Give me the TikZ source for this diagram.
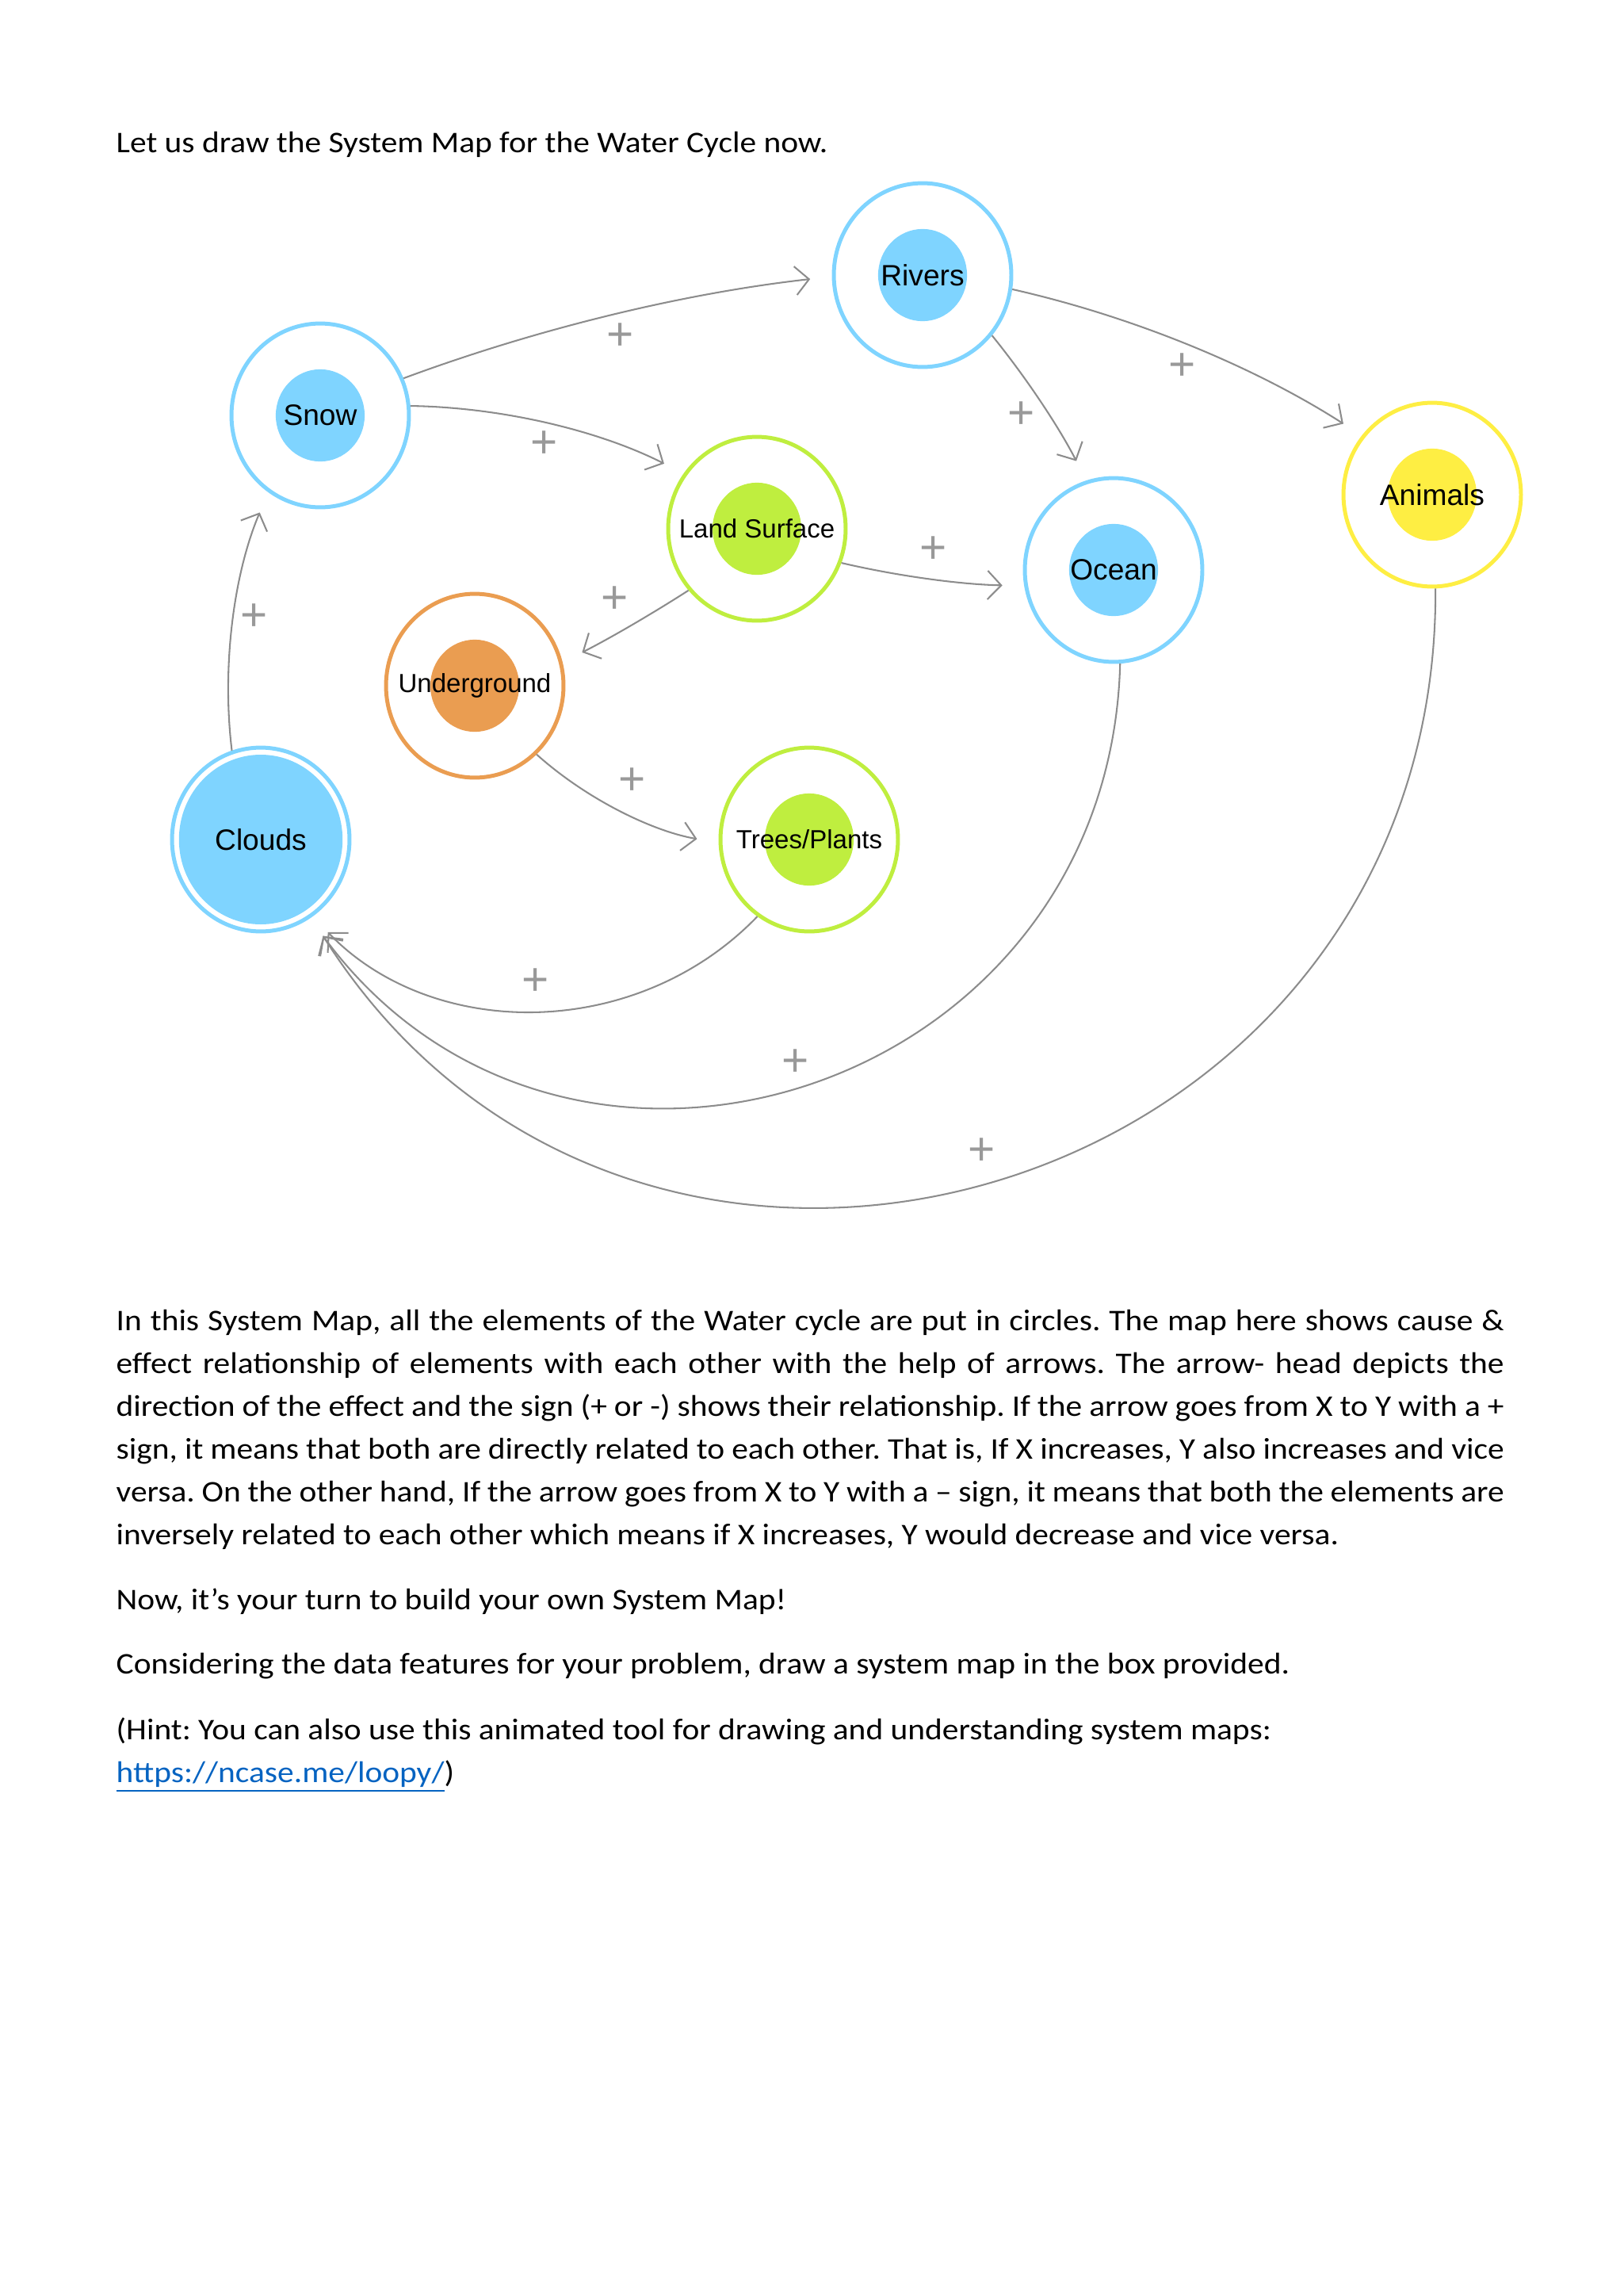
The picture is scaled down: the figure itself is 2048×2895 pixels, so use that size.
\documentclass[tikz,border=0pt]{standalone}
\usepackage{fontspec}
\setmainfont[FakeStretch=1.095]{Carlito}
\newfontfamily\mapfont{Liberation Sans}
\usetikzlibrary{arrows.meta, shapes.geometric}
\frenchspacing

\definecolor{loopblue}{HTML}{7FD4FF}
\definecolor{loopgreen}{HTML}{BFEE3F}
\definecolor{looporange}{HTML}{EA9D51}
\definecolor{loopyellow}{HTML}{FEEE43}
\definecolor{edgegray}{HTML}{8C8C8C}
\definecolor{signgray}{HTML}{999999}
\definecolor{linkblue}{HTML}{0563C1}

\begin{document}
\begin{tikzpicture}[
          x=0.29067pt, y=0.29067pt,
          stock/.style={ellipse, draw=#1, line width=1.45pt,
                        minimum width=65.1pt, minimum height=67.4pt,
                        inner sep=-10pt, text=black,
                        font=\mapfont\fontsize{10.8}{12}\selectfont,
                        path picture={\fill[#1] (path picture bounding box.center)
                          ellipse [x radius=16.3pt, y radius=16.9pt];}},
          flooded/.style={path picture={\fill[#1] (path picture bounding box.center)
                          ellipse [x radius=30pt, y radius=31.1pt];}},
          small/.style={font=\mapfont\fontsize{9.6}{11}\selectfont},
          rel/.style={draw=edgegray, line width=0.6pt, looseness=0.85,
                      -{Straight Barb[length=5pt, width=10.5pt]}, shorten >=8pt},
          sgn/.style={text=signgray, inner sep=0pt,
                      font=\mapfont\fontsize{17}{17}\selectfont},
          txt/.style={anchor=base west, inner sep=0pt,
                      font=\fontsize{11}{15.75}\selectfont}
        ]
          \useasboundingbox (0,0) rectangle (2048,-2895);

          \node[txt] (title) at (146,-192)
            {Let us draw the System Map for the Water Cycle now.};

          % stocks
          \node[stock=loopblue] (snow) at (404,-524) {Snow};
          \node[stock=loopblue] (rivers) at (1164,-347) {Rivers};
          \node[stock=loopgreen, small] (land) at (955,-667) {Land Surface};
          \node[stock=loopblue] (ocean) at (1405,-719) {Ocean};
          \node[stock=loopyellow] (animals) at (1807,-624) {Animals};
          \node[stock=looporange, small] (under) at (599,-865) {Underground};
          \node[stock=loopblue, flooded=loopblue] (clouds) at (329,-1059) {Clouds};
          \node[stock=loopgreen, small] (trees) at (1021,-1059) {Trees/Plants};

          % relations
          \draw[rel] (snow.24) to[bend left=7] (rivers.181);
          \draw[rel] (snow.6) to[bend left=13] (land.143);
          \draw[rel] (rivers.-41) to[bend left=6] (ocean.107);
          \draw[rel] (rivers.-9) to[bend left=10] (animals.140);
          \draw[rel] (land.-22) to[bend right=6] (ocean.190);
          \draw[rel] (land.222) to[bend left=3] (under.15);
          \draw[rel] (clouds.108) to[bend left=15] (snow.236);
          \draw[rel] (under.-48) to[bend right=16] (trees.182);
          \draw[rel] (trees.236) to[bend left=46, looseness=1] (clouds.-56);
          \draw[rel] (ocean.-86) to[bend left=71, looseness=1.3] (clouds.-58);
          \draw[rel] (animals.-88) to[bend left=74, looseness=1.34] (clouds.-57);

          % signs
          \node[sgn] (s1) at (783,-425) {+};
          \node[sgn] (s2) at (687,-561) {+};
          \node[sgn] (s3) at (1289,-524) {+};
          \node[sgn] (s4) at (1492,-463) {+};
          \node[sgn] (s5) at (1178,-694) {+};
          \node[sgn] (s6) at (776,-757) {+};
          \node[sgn] (s7) at (321,-779) {+};
          \node[sgn] (s8) at (798,-986) {+};
          \node[sgn] (s9) at (676,-1239) {+};
          \node[sgn] (s10) at (1004,-1341) {+};
          \node[sgn] (s11) at (1239,-1453) {+};

          % text below the map
          \node[txt, text width=509pt, align=justify] (body) at (146,-1678)
            {In this System Map, all the elements of the Water cycle are put in circles. The map here shows cause \&\linebreak
             effect relationship of elements with each other with the help of arrows. The arrow- head depicts the\linebreak
             direction of the effect and the sign (+ or -) shows their relationship. If the arrow goes from X to Y with a +\linebreak
             sign, it means that both are directly related to each other. That is, If X increases, Y also increases and vice\linebreak
             versa. On the other hand, If the arrow goes from X to Y with a – sign, it means that both the elements are\linebreak
             inversely related to each other which means if X increases, Y would decrease and vice versa.};
          \node[txt] (turn) at (146,-2030)
            {Now, it’s your turn to build your own System Map!};
          \node[txt] (task) at (146,-2111)
            {Considering the data features for your problem, draw a system map in the box provided.};
          \node[txt] (hint) at (146,-2194)
            {(Hint: You can also use this animated tool for drawing and understanding system maps:};
          \node[txt] (link) at (146,-2248)
            {{\color{linkblue}\underline{https://ncase.me/loopy/}})};
        \end{tikzpicture}
\end{document}
